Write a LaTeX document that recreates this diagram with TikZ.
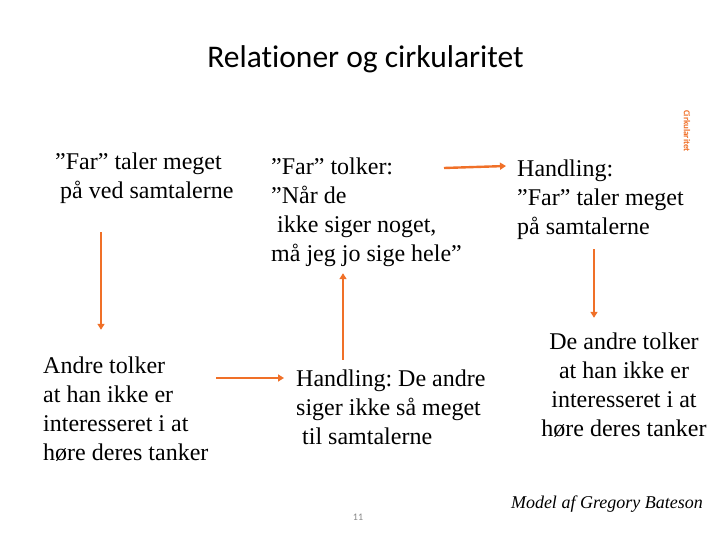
\documentclass[tikz,border=0pt]{standalone}
\usepackage{fontspec}
\setmainfont{Liberation Serif}
\newfontfamily\titlefont[Ligatures=NoCommon]{Carlito}
\newfontfamily\tagfont{Carlito}
\usetikzlibrary{arrows.meta}
\definecolor{arrorange}{RGB}{240,112,40}
\definecolor{pgnum}{RGB}{137,137,137}
\frenchspacing
\tikzset{
  txt/.style={inner sep=0pt, font=\fontsize{24}{29}\selectfont},
  arr/.style={draw=arrorange, line width=2.4pt, -{Triangle[length=6pt,width=7pt]}},
}
\begin{document}
\begin{tikzpicture}[x=1pt,y=-1pt]
\useasboundingbox[fill=white] (0,0) rectangle (720,540);
\node[inner sep=0pt, anchor=base, font=\titlefont\fontsize{31.5}{36}\selectfont] (title) at (365.5,68) {Relationer og cirkularitet};
\node[inner sep=0pt, anchor=center, rotate=-90, text=arrorange, font=\tagfont\bfseries\fontsize{9}{10}\selectfont] (tag) at (687,131) {Cirkularitet};
\node[txt, anchor=base west] (A) at (55,170) {\begin{tabular}[t]{@{}l@{}}”Far” taler meget\\\hspace*{5pt}på ved samtalerne\end{tabular}};
\node[txt, anchor=base west] (B) at (271,174.5) {\begin{tabular}[t]{@{}l@{}}”Far” tolker:\\”Når de\\\hspace*{6pt}ikke siger noget,\\må jeg jo sige hele”\end{tabular}};
\node[txt, anchor=base west] (C) at (517,177) {\begin{tabular}[t]{@{}l@{}}Handling:\\”Far” taler meget\\på samtalerne\end{tabular}};
\node[txt, anchor=base] (D) at (624,349) {\begin{tabular}[t]{@{}c@{}}De andre tolker\\at han ikke er\\interesseret i at\\høre deres tanker\end{tabular}};
\node[txt, anchor=base west] (E) at (296,386.5) {\begin{tabular}[t]{@{}l@{}}Handling: De andre\\siger ikke så meget\\\hspace*{6pt}til samtalerne\end{tabular}};
\node[txt, anchor=base west] (F) at (43,373) {\begin{tabular}[t]{@{}l@{}}Andre tolker\\at han ikke er\\interesseret i at\\høre deres tanker\end{tabular}};
\node[inner sep=0pt, anchor=base east, font=\itshape\fontsize{18}{22}\selectfont] (model) at (703,508) {Model af Gregory Bateson};
\node[inner sep=0pt, anchor=base, text=pgnum, font=\titlefont\fontsize{10}{12}\selectfont] (pg) at (358,520) {11};
\draw[arr] ([xshift=46pt,yshift=-24.3pt]A.south west) -- ([xshift=58pt,yshift=22.7pt]F.north west);
\draw[arr] ([xshift=7.7pt,yshift=-5pt]F.base east) -- ([xshift=-12pt,yshift=8.5pt]E.base west);
\draw[arr] ([xshift=47pt,yshift=6.2pt]E.north west) -- ([xshift=72pt,yshift=-2.8pt]B.south west);
\draw[arr] ([xshift=173pt,yshift=6.5pt]B.base west) -- ([xshift=-11pt,yshift=11pt]C.base west);
\draw[arr] ([xshift=77pt,yshift=-5.3pt]C.south west) -- ([xshift=-30pt,yshift=10.7pt]D.north);
\end{tikzpicture}
\end{document}
